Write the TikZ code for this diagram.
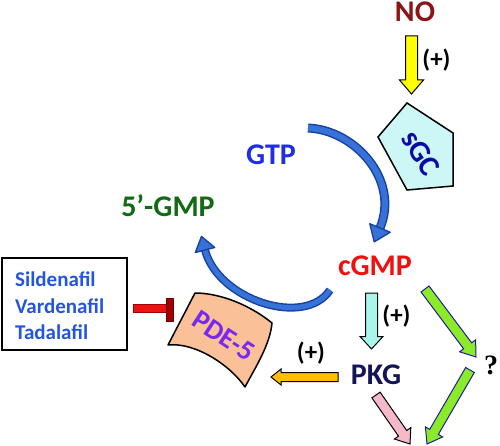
\documentclass[tikz,border=0pt]{standalone}
\usepackage{fontspec}
\setmainfont{Carlito}
\newfontfamily\qserif{Liberation Serif}
\usetikzlibrary{calc}
\definecolor{noRed}{RGB}{140,20,20}
\definecolor{gtpBlue}{RGB}{30,45,230}
\definecolor{gmpGreen}{RGB}{20,105,20}
\definecolor{cgmpRed}{RGB}{240,15,15}
\definecolor{pkgNavy}{RGB}{20,20,90}
\definecolor{sgcBlue}{RGB}{10,10,170}
\definecolor{pdePurple}{RGB}{120,40,240}
\definecolor{drugBlue}{RGB}{35,85,225}
\definecolor{pentFill}{RGB}{205,247,247}
\definecolor{pdeFill}{RGB}{250,192,152}
\definecolor{arcDark}{RGB}{25,65,165}
\definecolor{arcLight}{RGB}{55,115,215}
\definecolor{yelFill}{RGB}{255,255,0}
\definecolor{cyanFill}{RGB}{170,245,235}
\definecolor{grnFill}{RGB}{140,235,40}
\definecolor{grnEdge}{RGB}{30,30,150}
\definecolor{pinkFill}{RGB}{245,185,200}
\definecolor{orgFill}{RGB}{255,190,0}
\definecolor{inhRed}{RGB}{235,20,20}
\definecolor{inhDark}{RGB}{160,0,0}
% block arrow: #1 style, #2 start, #3 tip, #4 half shaft, #5 half head, #6 head length
\newcommand\blockarr[6]{%
  \coordinate (bah) at ($(#3)!#6!(#2)$);
  \draw[#1] ($(#2)!#4!90:(#3)$) -- ($(bah)!#4!90:(#3)$) -- ($(bah)!#5!90:(#3)$) -- (#3)
    -- ($(bah)!#5!-90:(#3)$) -- ($(bah)!#4!-90:(#3)$) -- ($(#2)!#4!-90:(#3)$) -- cycle;}
\begin{document}
\begin{tikzpicture}[x=1pt,y=-1pt,
  lbl/.style={font=\bfseries\fontsize{30}{36}\selectfont, inner sep=0pt},
  plus/.style={font=\bfseries\fontsize{25}{28}\selectfont, inner sep=0pt},
  drug/.style={font=\bfseries\fontsize{21}{25}\selectfont, text=drugBlue, inner sep=0pt, anchor=base west},
  arcout/.style={draw=arcDark, line width=9pt},
  arcin/.style={draw=arcLight, line width=6pt},
  archead/.style={fill=arcLight, draw=arcDark, line width=1.4pt, line join=round},
  yelarr/.style={fill=yelFill, draw=black, line width=1pt},
  cyanarr/.style={fill=cyanFill, draw=black, line width=1pt},
  grnarr/.style={fill=grnFill, draw=grnEdge, line width=1pt},
  pinkarr/.style={fill=pinkFill, draw=black, line width=1pt},
  orgarr/.style={fill=orgFill, draw=black, line width=1pt}]
\useasboundingbox (0,0) rectangle (500,446);

% labels
\node[lbl, text=noRed] (no) at (415,12) {NO};
\node[lbl, text=gtpBlue] (gtp) at (271,155) {GTP};
\node[lbl, text=gmpGreen] (gmp) at (168,206) {5’-GMP};
\node[lbl, text=cgmpRed] (cgmp) at (375,266) {cGMP};
\node[lbl, text=pkgNavy] (pkg) at (376,375) {PKG};
\node[font=\qserif\bfseries\fontsize{28}{32}\selectfont, inner sep=0pt] (q) at (491,365) {?};

% sGC pentagon
\draw[fill=pentFill, draw=black, line width=1.5pt, line join=miter]
  (407,103) -- (453,133) -- (453,186) -- (407,190) -- (378,137) -- cycle;
\node[font=\bfseries\fontsize{30}{32}\selectfont, text=sgcBlue, rotate=-58, inner sep=0pt] (sgc) at (421,153) {sGC};

% PDE-5 shape
\draw[fill=pdeFill, draw=black, line width=1.5pt, line join=round]
  (195,293) .. controls (220,293) and (250,305) .. (272,323)
  .. controls (270,345) and (255,368) .. (245,387)
  .. controls (230,365) and (195,342) .. (168,345)
  -- cycle;
\node[font=\bfseries\fontsize{28}{32}\selectfont, text=pdePurple, rotate=-33, inner sep=0pt] (pde) at (224,336) {PDE-5};

% drug box
\node[draw=black, line width=1.2pt, minimum width=125pt, minimum height=92pt, inner sep=0pt] (drugbox) at (64.5,304) {};
\node[drug] (sil) at (15,286.5) {Sildenafil};
\node[drug] (var) at (15,313) {Vardenafil};
\node[drug] (tad) at (15,339.5) {Tadalafil};

% inhibition
\draw[fill=inhRed, draw=inhDark, line width=0.8pt] (133,304.5) rectangle (166.5,312.5);
\draw[fill=inhDark, draw=inhDark!70!black, line width=0.8pt] (166.5,298.5) rectangle (173,321.5);

% blue curved arrows
\coordinate (a1s) at (308,128);
\coordinate (a1c1) at (355,130);
\coordinate (a1c2) at (400,180);
\coordinate (a1e) at (380,228);
\draw[arcout] (a1s) .. controls (a1c1) and (a1c2) .. (a1e);
\draw[arcin] (a1s) .. controls (a1c1) and (a1c2) .. (a1e);
\draw[archead] ($(a1e)!11pt!90:(a1c2)$) -- ($(a1e)!-15pt!(a1c2)$) -- ($(a1e)!11pt!-90:(a1c2)$) -- cycle;

\coordinate (a2s) at (330,290);
\coordinate (a2c1) at (305,328);
\coordinate (a2c2) at (218,300);
\coordinate (a2e) at (205,250);
\draw[arcout, line width=8pt] (a2s) .. controls (a2c1) and (a2c2) .. (a2e);
\draw[arcin, line width=5pt] (a2s) .. controls (a2c1) and (a2c2) .. (a2e);
\draw[archead] ($(a2e)!10pt!90:(a2c2)$) -- ($(a2e)!-14pt!(a2c2)$) -- ($(a2e)!10pt!-90:(a2c2)$) -- cycle;

% straight block arrows
\coordinate (y1) at (411.5,36); \coordinate (y2) at (411.5,94);
\blockarr{yelarr}{y1}{y2}{6pt}{12pt}{14pt}
\node[plus] (p1) at (436.5,60) {(+)};

\coordinate (c1) at (371.5,293); \coordinate (c2) at (371.5,349);
\blockarr{cyanarr}{c1}{c2}{6pt}{11.5pt}{12.5pt}
\node[plus] (p2) at (396.5,316) {(+)};

\coordinate (g1) at (425,289); \coordinate (g2) at (476,357);
\blockarr{grnarr}{g1}{g2}{5pt}{10pt}{14pt}
\coordinate (g3) at (470,370); \coordinate (g4) at (427,444);
\blockarr{grnarr}{g3}{g4}{5pt}{10pt}{14pt}

\coordinate (k1) at (376,395); \coordinate (k2) at (410,444);
\blockarr{pinkarr}{k1}{k2}{5pt}{10pt}{13pt}

\coordinate (o1) at (338,377); \coordinate (o2) at (271,377);
\blockarr{orgarr}{o1}{o2}{4.5pt}{8pt}{10pt}
\node[plus] (p3) at (311,353) {(+)};
\end{tikzpicture}
\end{document}
